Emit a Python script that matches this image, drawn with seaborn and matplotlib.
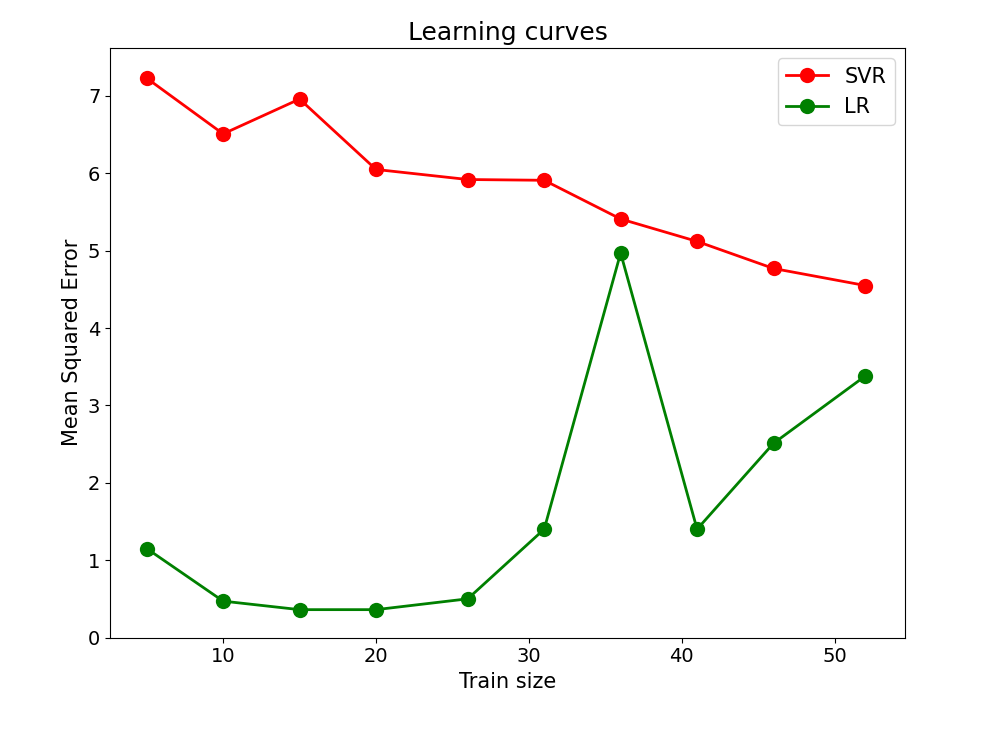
import matplotlib
matplotlib.use("Agg")
import matplotlib.pyplot as plt
import seaborn as sns
import pandas as pd

train_size = [5, 10, 15, 20, 26, 31, 36, 41, 46, 52]
svr = [7.23, 6.51, 6.96, 6.05, 5.92, 5.91, 5.41, 5.12, 4.77, 4.55]
lr = [1.15, 0.47, 0.36, 0.36, 0.50, 1.40, 4.97, 1.40, 2.51, 3.38]

df = pd.DataFrame({"x": train_size * 2, "y": svr + lr,
                   "model": ["SVR"] * len(svr) + ["LR"] * len(lr)})

fig = plt.figure(figsize=(10, 7.5), dpi=100)
ax = fig.add_axes([0.11, 0.15, 0.795, 0.786])
sns.lineplot(data=df, x="x", y="y", hue="model", palette={"SVR": "red", "LR": "green"},
             marker="o", markersize=11, markeredgewidth=0, linewidth=2, ax=ax)
ax.set_ylim(0, 7.62)
ax.set_xlim(2.6, 54.6)
ax.set_title("Learning curves", fontsize=18)
ax.set_xlabel("Train size", fontsize=15)
ax.set_ylabel("Mean Squared Error", fontsize=15)
ax.tick_params(labelsize=14)
ax.legend(title=None, fontsize=15, loc="upper right")
fig.savefig("out.png")
